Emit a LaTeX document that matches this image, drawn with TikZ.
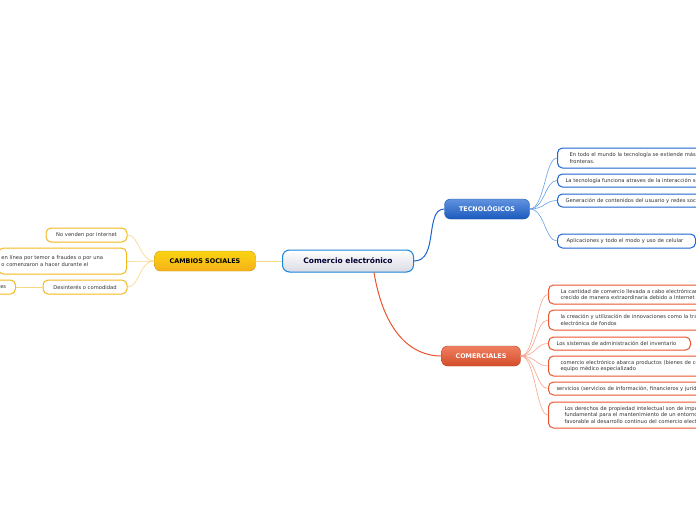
\documentclass[tikz,border=0pt]{standalone}
\usepackage{fontspec}
\setmainfont{DejaVu Sans}
\definecolor{tb}{RGB}{30,100,210}
\definecolor{tb2}{RGB}{100,160,230}
\definecolor{cr}{RGB}{235,85,45}
\definecolor{cr2}{RGB}{245,165,140}
\definecolor{sy}{RGB}{245,185,30}
\definecolor{sy2}{RGB}{250,215,130}
\begin{document}
\begin{tikzpicture}[x=1pt,y=-1pt,
  leaf/.style={draw,rounded corners=5pt,line width=1pt,fill=white,font=\fontsize{5.2}{6.7}\selectfont,align=left,inner sep=3pt,anchor=west,text=black!80},
  tl/.style={leaf,draw=tb},
  cl/.style={leaf,draw=cr},
  sl/.style={leaf,draw=sy},
  main/.style={rounded corners=6pt,font=\fontsize{6.4}{7}\selectfont\bfseries,minimum height=20pt,draw},
  tc/.style={draw=tb2,line width=0.6pt},
  cc/.style={draw=cr2,line width=0.6pt},
  scc/.style={draw=sy2,line width=0.6pt}]
\useasboundingbox (0,0) rectangle (696,520);
\clip (0,0) rectangle (696,520);
\fill[white] (0,0) rectangle (696,520);
% main nodes
\node[draw=tb!80!cyan,line width=1pt,rounded corners=7pt,top color=white,bottom color=blue!15!gray!25,minimum width=131pt,minimum height=22pt,font=\fontsize{7.5}{9}\selectfont\bfseries,text=black!80!blue] (c) at (348,261) {Comercio electrónico};
\node[main,draw=tb!80!black,top color=tb!70!white,bottom color=tb!90!black,text=white,minimum width=85pt] (t) at (487,209) {TECNOLÓGICOS};
\node[main,draw=cr!80!black,top color=cr!75!white,bottom color=cr!90!black,text=white,minimum width=79pt] (m) at (481,356) {COMERCIALES};
\node[main,draw=sy!80!black,top color=sy!60!yellow,bottom color=sy!85!orange,text=black,minimum width=101pt] (s) at (205,261) {CAMBIOS SOCIALES};
% tech leaves
\node[tl,minimum height=20pt,text width=190pt] (t1) at (557,158) {\hspace*{9pt}En todo el mundo la tecnología se extiende más allá de las\\\hspace*{9pt}fronteras.};
\node[tl,minimum height=13pt,text width=190pt] (t2) at (557,180.5) {\hspace*{5pt}La tecnología funciona atraves de la interacción social};
\node[tl,minimum height=13pt,text width=190pt] (t3) at (557,200.5) {\hspace*{5pt}Generación de contenidos del usuario y redes sociales};
\node[tl,minimum height=14pt,text width=132pt] (t4) at (557,241) {\hspace*{6pt}Aplicaciones y todo el modo y uso de celular};
% commercial leaves
\node[cl,minimum height=19pt,text width=200pt] (c1) at (548,294.5) {\hspace*{9pt}La cantidad de comercio llevada a cabo electrónicamente ha\\\hspace*{9pt}crecido de manera extraordinaria debido a Internet};
\node[cl,minimum height=20pt,text width=200pt] (c2) at (548,320) {\hspace*{9pt}la creación y utilización de innovaciones como la transferencia\\\hspace*{9pt}electrónica de fondos};
\node[cl,minimum height=13pt,text width=136pt] (c3) at (548,343.5) {\hspace*{5pt}Los sistemas de administración del inventario};
\node[cl,minimum height=20pt,text width=200pt] (c4) at (548,366) {\hspace*{9pt}comercio electrónico abarca productos (bienes de consumo,\\\hspace*{9pt}equipo médico especializado};
\node[cl,minimum height=13pt,text width=200pt] (c5) at (548,388.5) {\hspace*{5pt}servicios (servicios de información, financieros y jurídicos)};
\node[cl,minimum height=26pt,text width=200pt] (c6) at (548,415) {\hspace*{13pt}Los derechos de propiedad intelectual son de importancia\\\hspace*{13pt}fundamental para el mantenimiento de un entorno\\\hspace*{13pt}favorable al desarrollo continuo del comercio electrónico};
% social leaves
\node[sl,minimum height=14pt,minimum width=81pt,align=center,anchor=center] (s1) at (86.5,235) {No venden por internet};
\node[sl,minimum height=26pt,text width=122pt,anchor=east] (s2) at (127,261) {en línea por temor a fraudes o por una\\o comenzaron a hacer durante el};
\node[sl,minimum height=14pt,minimum width=84pt,align=center,anchor=center] (s3) at (85,287) {Desinterés o comodidad};
\node[sl,minimum height=14pt,minimum width=40pt,anchor=east] (s4) at (16,287) {\hspace*{14pt}les};
% connectors
\draw[draw=tb,line width=1pt] (c.east) .. controls +(25,0) and +(-20,0) .. (t.west);
\draw[draw=cr,line width=1pt] ([xshift=-40pt]c.south east) .. controls +(10,60) and +(-30,0) .. (m.west);
\draw[scc,line width=1pt] (s.east) -- (c.west);
\foreach \n in {t1,t2,t3,t4} \draw[tc] (t.east) .. controls +(15,0) and +(-12,0) .. (\n.west);
\foreach \n in {c1,c2,c3,c4,c5,c6} \draw[cc] (m.east) .. controls +(15,0) and +(-12,0) .. (\n.west);
\foreach \n in {s1,s2,s3} \draw[scc] (s.west) .. controls +(-15,0) and +(12,0) .. (\n.east);
\draw[scc] (s3.west) -- (s4.east);
\end{tikzpicture}
\end{document}
